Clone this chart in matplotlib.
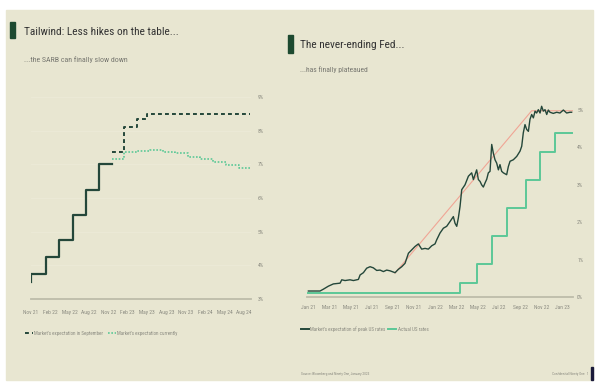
import matplotlib
matplotlib.use('Agg')
import matplotlib.pyplot as plt
from matplotlib import font_manager
from matplotlib.patches import Rectangle
from matplotlib.lines import Line2D

# pick a narrow font if one is installed
fonts = font_manager.fontManager.ttflist
names = {f.name for f in fonts}
STRETCH = 'normal'
NARROW = 'DejaVu Sans'
for cand in ['Liberation Sans Narrow', 'Roboto Condensed', 'Open Sans Condensed']:
    if cand in names:
        NARROW = cand
        break
else:
    for f in fonts:
        if f.name == 'DejaVu Sans' and f.stretch in ('condensed', 'semi-condensed'):
            STRETCH = 'condensed'
            break
plt.rcParams['font.family'] = [NARROW, 'DejaVu Sans']
plt.rcParams['font.stretch'] = STRETCH

# ---- left chart: SARB repo rate (months since Nov 21) ----
left_ticks = ['Nov 21', 'Feb 22', 'May 22', 'Aug 22', 'Nov 22', 'Feb 23',
              'May 23', 'Aug 23', 'Nov 23', 'Feb 24', 'May 24', 'Aug 24']
sarb_m = [0, 0, 2.4, 4.4, 6.5, 8.5, 10.5, 12.6]
sarb_r = [3.5, 3.75, 4.25, 4.75, 5.5, 6.25, 7.0, 7.0]
sept_m = [12.5, 14.4, 16.4, 18.0, 34.0]
sept_r = [7.37, 8.1, 8.34, 8.5, 8.5]
curr_m = [12.5, 14.4, 16.4, 18.4, 20.5, 22.3, 24.3, 26.2, 28.2, 30.2, 32.2, 34.0]
curr_r = [7.15, 7.36, 7.40, 7.42, 7.38, 7.33, 7.22, 7.15, 7.07, 6.97, 6.90, 6.88]

# ---- right chart: Fed (months since Jan 21) ----
right_ticks = ['Jan 21', 'Mar 21', 'May 21', 'Jul 21', 'Sep 21', 'Nov 21', 'Jan 22',
               'Mar 22', 'May 22', 'Jul 22', 'Sep 22', 'Nov 22', 'Jan 23']
peak_m = [0.03, 1.13, 1.45, 1.92, 2.39, 3.02, 3.18, 3.49, 3.96, 4.28, 4.75, 4.91,
          5.22, 5.53, 5.85, 6.16, 6.48, 6.79, 7.11, 7.42, 7.74, 8.21, 8.52, 8.84,
          9.15, 9.47, 9.78, 10.09, 10.41, 10.72, 11.04, 11.35, 11.67, 11.98, 12.14,
          12.45, 12.77, 13.08, 13.40, 13.71, 13.87, 14.03, 14.18, 14.34, 14.50,
          14.81, 15.13, 15.44, 15.60, 15.91, 16.07, 16.23, 16.38, 16.54, 16.70,
          16.86, 17.01, 17.17, 17.33, 17.48, 17.64, 17.80, 17.96, 18.11, 18.27,
          18.43, 18.74, 18.90, 19.06, 19.37, 19.69, 20.00, 20.16, 20.31, 20.47,
          20.63, 20.79, 20.94, 21.10, 21.26, 21.42, 21.57, 21.73, 21.89, 22.04,
          22.20, 22.36, 22.52, 22.67, 22.83, 23.14, 23.46, 23.77, 24.09, 24.40,
          24.72, 24.87]
peak_r = [0.16, 0.16, 0.21, 0.29, 0.35, 0.37, 0.46, 0.44, 0.46, 0.44, 0.47, 0.59,
          0.65, 0.77, 0.81, 0.78, 0.71, 0.72, 0.68, 0.72, 0.70, 0.65, 0.74, 0.81,
          0.90, 1.17, 1.26, 1.35, 1.42, 1.28, 1.30, 1.28, 1.37, 1.42, 1.53,
          1.71, 1.84, 1.89, 2.02, 2.15, 1.97, 1.89, 2.11, 2.42, 2.87,
          3.00, 3.23, 3.32, 3.14, 3.40, 3.14, 3.09, 3.00, 2.94, 3.05,
          3.15, 3.32, 3.36, 4.08, 3.85, 3.67, 3.58, 3.40, 3.54, 3.36,
          3.32, 3.27, 3.49, 3.63, 3.67, 3.76, 3.90, 4.03, 4.39, 4.61,
          4.48, 4.43, 4.75, 4.88, 4.79, 4.97, 4.92, 5.01, 4.92, 5.10,
          4.97, 5.01, 4.88, 5.00, 4.94, 4.91, 4.94, 4.92, 5.00, 4.92,
          4.94, 4.94]
path_m = [8.2, 21.1, 25.0]
path_r = [0.64, 4.98, 4.98]
us_m = [0.0, 14.3, 15.9, 17.4, 18.8, 20.6, 21.9, 23.3, 24.9]
us_r = [0.12, 0.38, 0.88, 1.62, 2.38, 3.12, 3.88, 4.38, 4.38]

BG = '#e8e6d1'
DARK = '#24473a'
MINT = '#5cc897'
SALMON = '#f0a595'
GREY = '#8a8a80'
AXIS = '#bdbcaa'

W, H = 600, 389
fig = plt.figure(figsize=(6, 3.89), dpi=100, facecolor='white')
fig.patches.append(Rectangle((6 / W, 1 - 380 / H), 587 / W, 370 / H,
                             transform=fig.transFigure, color=BG, zorder=-5))


def px(x0, y0, x1, y1):
    return [x0 / W, 1 - y1 / H, (x1 - x0) / W, (y1 - y0) / H]


def style(ax):
    ax.set_facecolor('none')
    for s in ['top', 'left', 'right']:
        ax.spines[s].set_visible(False)
    ax.spines['bottom'].set_color(AXIS)
    ax.spines['bottom'].set_linewidth(1.3)
    ax.yaxis.tick_right()
    ax.tick_params(length=0, labelsize=4, labelcolor=GREY)


# left axes
ax1 = fig.add_axes(px(31, 97, 251, 299))
style(ax1)
ax1.grid(axis='y', color='#ecead7', lw=0.6)
ax1.set_axisbelow(True)
ax1.step(sarb_m, sarb_r, where='post', color=DARK, lw=1.6)
ax1.step(sept_m, sept_r, where='post', color=DARK, lw=1.4, ls=(0, (2, 1.6)))
ax1.step(curr_m, curr_r, where='post', color=MINT, lw=1.2, ls=(0, (1, 1)))
ax1.set_xlim(0, 34.1)
ax1.set_ylim(3, 9)
ax1.set_xticks(range(0, 34, 3))
ax1.set_xticklabels(left_ticks)
ax1.set_yticks(range(3, 10))
ax1.set_yticklabels([f'{v}%' for v in range(3, 10)])
ax1.tick_params(axis='x', pad=8)
ax1.tick_params(axis='y', pad=5)

# right axes
ax2 = fig.add_axes(px(307, 98.8, 573, 297))
style(ax2)
ax2.step(us_m, us_r, where='post', color=MINT, lw=1.4, zorder=2)
ax2.plot(path_m, path_r, color=SALMON, lw=0.8, zorder=3)
ax2.plot(peak_m, peak_r, color=DARK, lw=1.0, zorder=4)
ax2.set_xlim(-0.1, 25.0)
ax2.set_ylim(0, 5.3)
ax2.set_xticks(range(0, 25, 2))
ax2.set_xticklabels(right_ticks)
ax2.set_yticks(range(0, 6))
ax2.set_yticklabels([f'{v}%' for v in range(0, 6)])
ax2.tick_params(axis='x', pad=6)
ax2.tick_params(axis='y', pad=3)

# titles
fig.patches.append(Rectangle((10 / W, 1 - 38 / H), 5 / W, 16 / H,
                             transform=fig.transFigure, color='#1d4a30', zorder=1))
fig.patches.append(Rectangle((288 / W, 1 - 53 / H), 5 / W, 18 / H,
                             transform=fig.transFigure, color='#1d4a30', zorder=1))
fig.text(24 / W, 1 - 32 / H, 'Tailwind: Less hikes on the table...', fontsize=8.2,
         color='#333333', va='center')
fig.text(24 / W, 1 - 60 / H, '...the SARB can finally slow down', fontsize=5.7,
         color='#777770', va='center')
fig.text(300 / W, 1 - 45 / H, 'The never-ending Fed...', fontsize=8.2,
         color='#333333', va='center')
fig.text(300 / W, 1 - 70 / H, '...has finally plateaued', fontsize=5.5,
         color='#777770', va='center')

# legends
h1 = [Line2D([], [], color=DARK, lw=1.4, ls=(0, (2, 1.6))),
      Line2D([], [], color=MINT, lw=1.2, ls=(0, (1, 1)))]
fig.legend(h1, ["Market's expectation in September", "Market's expectation currently"],
           loc='center left', bbox_to_anchor=(25 / W, 1 - 333 / H), ncol=2, frameon=False,
           fontsize=3.6, labelcolor=GREY, handlelength=1.6, handletextpad=0.3,
           columnspacing=0.8, borderaxespad=0, borderpad=0)
h2 = [Line2D([], [], color=DARK, lw=1.4), Line2D([], [], color=MINT, lw=1.4)]
fig.legend(h2, ["Market's expectation of peak US rates", 'Actual US rates'],
           loc='center left', bbox_to_anchor=(301 / W, 1 - 329 / H), ncol=2, frameon=False,
           fontsize=3.6, labelcolor=GREY, handlelength=1.6, handletextpad=0.3,
           columnspacing=0.5, borderaxespad=0, borderpad=0)

# footer
fig.text(301 / W, 1 - 374 / H, 'Source: Bloomberg and Ninety One, January 2023',
         fontsize=2.5, color=GREY, va='center')
fig.text(588 / W, 1 - 374 / H, 'Confidential Ninety One   1', fontsize=2.5,
         color=GREY, va='center', ha='right')
fig.patches.append(Rectangle((591 / W, 1 - 380 / H), 1.5 / W, 13 / H,
                             transform=fig.transFigure, color='#1a1a3a', zorder=2))

fig.savefig('out.png', dpi=100, facecolor='white')
